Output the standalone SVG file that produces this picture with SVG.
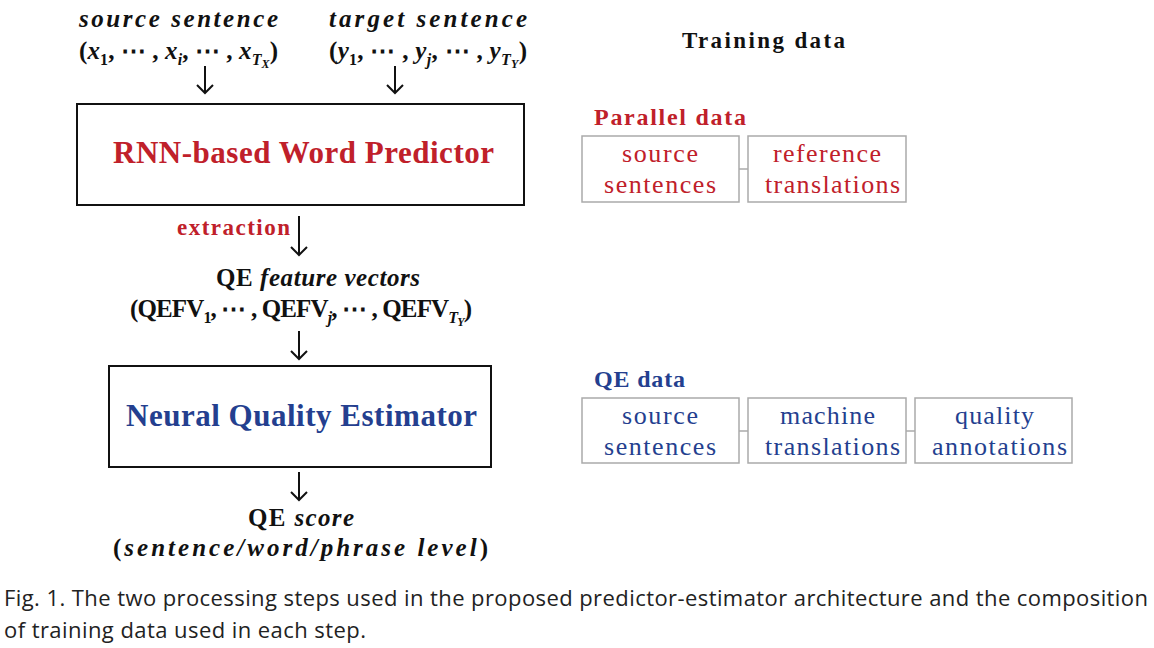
<svg xmlns="http://www.w3.org/2000/svg" width="1154" height="648" viewBox="0 0 1154 648">
<style>
.t{font-family:"Liberation Serif","DejaVu Serif",serif;font-weight:bold;fill:#111}
.it{font-style:italic}
.red{fill:#c0202a}.blue{fill:#243f8f}
.d{font-family:"Liberation Serif","DejaVu Serif",serif;font-size:26px}
.box{fill:#fff;stroke:#111;stroke-width:2}
.dbox{fill:#fff;stroke:#aaa;stroke-width:1.5}
.ar{stroke:#111;stroke-width:2;fill:none}
.cap{font-family:"Open Sans","Noto Sans",sans-serif;font-size:22px;fill:#222}
</style>
<g id="inputs" class="t" font-size="25">
<text x="79" y="27" class="it" textLength="199" lengthAdjust="spacing">source sentence</text>
<text x="79" y="59" textLength="199" lengthAdjust="spacing">(<tspan class="it">x</tspan><tspan font-size="16" dy="6">1</tspan><tspan dy="-6">, ⋯ , </tspan><tspan class="it">x</tspan><tspan font-size="16" dy="6" class="it">i</tspan><tspan dy="-6">, ⋯ , </tspan><tspan class="it">x</tspan><tspan font-size="16" dy="6" class="it">T</tspan><tspan font-size="12" dy="3" class="it">X</tspan><tspan dy="-9">)</tspan></text>
<text x="329" y="27" class="it" textLength="198" lengthAdjust="spacing">target sentence</text>
<text x="329" y="59" textLength="198" lengthAdjust="spacing">(<tspan class="it">y</tspan><tspan font-size="16" dy="6">1</tspan><tspan dy="-6">, ⋯ , </tspan><tspan class="it">y</tspan><tspan font-size="16" dy="6" class="it">j</tspan><tspan dy="-6">, ⋯ , </tspan><tspan class="it">y</tspan><tspan font-size="16" dy="6" class="it">T</tspan><tspan font-size="12" dy="3" class="it">Y</tspan><tspan dy="-9">)</tspan></text>
</g>
<g id="predictor"><rect class="box" x="77" y="104" width="447" height="101"/>
<text class="t red" x="113" y="163" font-size="31" textLength="381" lengthAdjust="spacing">RNN-based Word Predictor</text></g>
<g id="features" class="t" font-size="25">
<text x="177" y="235" class="red" font-size="23" textLength="113" lengthAdjust="spacing">extraction</text>
<text x="216" y="286" textLength="204" lengthAdjust="spacing">QE <tspan class="it">feature vectors</tspan></text>
<text x="130" y="317" textLength="342" lengthAdjust="spacing">(QEFV<tspan font-size="16" dy="6">1</tspan><tspan dy="-6">, ⋯ , QEFV</tspan><tspan font-size="16" dy="6" class="it">j</tspan><tspan dy="-6">, ⋯ , QEFV</tspan><tspan font-size="16" dy="6" class="it">T</tspan><tspan font-size="12" dy="3" class="it">Y</tspan><tspan dy="-9">)</tspan></text>
</g>
<g id="estimator"><rect class="box" x="109" y="366" width="382" height="101"/>
<text class="t blue" x="126" y="426" font-size="31" textLength="351" lengthAdjust="spacing">Neural Quality Estimator</text></g>
<g id="score" class="t" font-size="25">
<text x="248" y="526" textLength="106" lengthAdjust="spacing">QE <tspan class="it">score</tspan></text>
<text x="113" y="556" textLength="375" lengthAdjust="spacing">(<tspan class="it">sentence/word/phrase level</tspan>)</text>
</g>
<g id="connectors" class="ar">
<path d="M205 66V93M197 85L205 93L213 85"/>
<path d="M395 66V93M387 85L395 93L403 85"/>
<path d="M299 216V255M291 247L299 255L307 247"/>
<path d="M299 331V359M291 351L299 359L307 351"/>
<path d="M299 472V500M291 492L299 500L307 492"/>
<g stroke="#aaa" stroke-width="1.5"><path d="M739 169H748M739 431H748M906 431H915"/></g>
</g>
<g id="training" class="t"><text x="682" y="48" font-size="23" textLength="163" lengthAdjust="spacing">Training data</text></g>
<g id="parallel">
<text class="t red" x="594" y="125" font-size="24" textLength="152" lengthAdjust="spacing">Parallel data</text>
<rect class="dbox" x="582" y="136" width="157" height="66"/><text class="d red" x="622" y="162" textLength="76">source</text><text class="d red" x="604" y="193" textLength="112">sentences</text>
<rect class="dbox" x="748" y="136" width="158" height="66"/><text class="d red" x="773" y="162" textLength="108">reference</text><text class="d red" x="765" y="193" textLength="135">translations</text>
</g>
<g id="qedata">
<text class="t blue" x="594" y="387" font-size="24" textLength="91" lengthAdjust="spacing">QE data</text>
<rect class="dbox" x="582" y="398" width="157" height="65"/><text class="d blue" x="622" y="424" textLength="76">source</text><text class="d blue" x="604" y="455" textLength="112">sentences</text>
<rect class="dbox" x="748" y="398" width="158" height="65"/><text class="d blue" x="780" y="424" textLength="95">machine</text><text class="d blue" x="765" y="455" textLength="135">translations</text>
<rect class="dbox" x="915" y="398" width="157" height="65"/><text class="d blue" x="955" y="424" textLength="79">quality</text><text class="d blue" x="932" y="455" textLength="135">annotations</text>
</g>
<g id="caption">
<text class="cap" x="4" y="606" textLength="1144" lengthAdjust="spacing">Fig. 1.  The two processing steps used in the proposed predictor-estimator architecture and the composition</text>
<text class="cap" x="4" y="638" textLength="362" lengthAdjust="spacing">of training data used in each step.</text>
</g>
</svg>
